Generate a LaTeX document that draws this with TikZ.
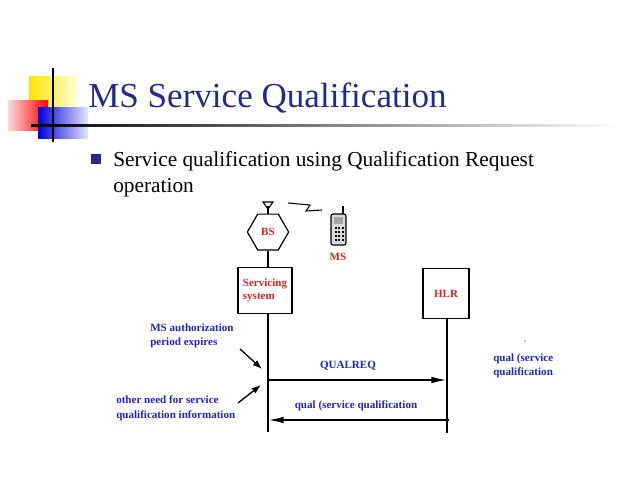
\documentclass[tikz,border=0pt]{standalone}
\usepackage{fontspec}
\setmainfont{Liberation Serif}
\usetikzlibrary{shapes.geometric,arrows.meta}
\definecolor{navy}{RGB}{40,40,140}
\definecolor{dred}{RGB}{215,35,35}
\definecolor{dblue}{RGB}{35,35,185}
\begin{document}
\begin{tikzpicture}[x=0.75pt,y=-0.75pt,
  lbl/.style={font=\fontsize{8.3}{10}\selectfont\bfseries,align=left,inner sep=0},
  rl/.style={lbl,text=dred},
  bl/.style={lbl,text=dblue},
  box/.style={draw,line width=0.9pt,inner sep=0},
  msg/.style={line width=0.9pt,-{Latex[length=11pt,width=5pt]}}]
\useasboundingbox (0,0) rectangle (638,478);
% decoration
\shade[left color=yellow!80!orange,right color=yellow!15] (29,76) rectangle (77,107);
\shade[left color=red!15,right color=red] (8,100) rectangle (48,130);
\shade[left color=blue!85!black,right color=blue!10] (38,107) rectangle (88,138);
\draw[line width=1.2pt] (53,68) -- (53,142);
\shade[left color=black,right color=white] (31,124.2) rectangle (620,126);
\node[anchor=base west,inner sep=0,text=navy,font=\fontsize{26.3}{30}\selectfont] (title) at (88,107) {MS Service Qualification};
\fill[navy] (91,154) rectangle (101,164) coordinate (bul);
\node[anchor=base west,inner sep=0,font=\fontsize{16}{19.5}\selectfont,align=left] (b1) at (113,166) {Service qualification using Qualification Request};
\node[anchor=base west,inner sep=0,font=\fontsize{16}{19.5}\selectfont] (b2) at (113,192) {operation};
% BS
\node[regular polygon,regular polygon sides=6,draw,line width=0.9pt,minimum size=31pt,inner sep=0] (bs) at (268,232) {};
\node[rl] at (bs) {BS};
\coordinate (ant) at (268,206);
\draw[line width=0.8pt] (ant) -- (bs.north);
\draw[line width=0.8pt] (263,202) -- (268,209) -- (273,202) -- cycle;
\draw[line width=0.8pt] (288,203) -- (310,205) -- (306,211) -- (322,210);
% phone
\draw[line width=0.8pt,fill=gray!30,rounded corners=1.5pt] (331,214) rectangle (346,245);
\draw[line width=0.8pt] (343,214) -- (343,206);
\fill[gray!70] (334,217) rectangle (343,224);
\foreach \i in {0,1,2,3}{\foreach \j in {0,1,2}{\fill (334.5+\j*3.5,227+\i*4) rectangle +(2.3,2.3);}}
\node[rl] (ms) at (338,257) {MS};
% boxes
\node[box,minimum width=40.5pt,minimum height=34pt] (ss) at (265,290.5) {};
\node[rl] at (ss) {Servicing\\system};
\node[box,minimum width=34.5pt,minimum height=38pt] (hlr) at (446,293.5) {};
\node[rl] at (hlr) {HLR};
\draw[line width=0.9pt] (bs.south) -- (268,268);
\coordinate (ssb) at (268,313);
\coordinate (hlb) at (447,319);
\coordinate (sse) at (268,432);
\coordinate (hle) at (447,433);
\draw[line width=0.9pt] (ssb) -- (sse);
\draw[line width=0.9pt] (hlb) -- (hle);
\coordinate (q1) at (268,380); \coordinate (q2) at (446,380);
\draw[msg] (q1) -- (q2);
\node[bl] at (348,366) {QUALREQ};
\coordinate (r1) at (449,420); \coordinate (r2) at (269,420);
\draw[msg] (r1) -- (r2);
\node[bl] at (356,406) {qual (service qualification};
\node[bl,anchor=west] at (150,336) {MS authorization\\[1pt]period expires};
\coordinate (a1) at (240,349); \coordinate (a2) at (262,369);
\draw[line width=1pt,-{Latex[length=7pt,width=5pt]}] (a1) -- (a2);
\node[bl,anchor=west] at (116,408) {other need for service\\[1pt]qualification information};
\coordinate (c1) at (238,403); \coordinate (c2) at (261,385);
\draw[line width=1pt,-{Latex[length=7pt,width=5pt]}] (c1) -- (c2);
\node[bl,anchor=west] at (493,366) {qual (service\\[1pt]qualification};
\fill (525,341) circle (0.6);
\end{tikzpicture}
\end{document}
